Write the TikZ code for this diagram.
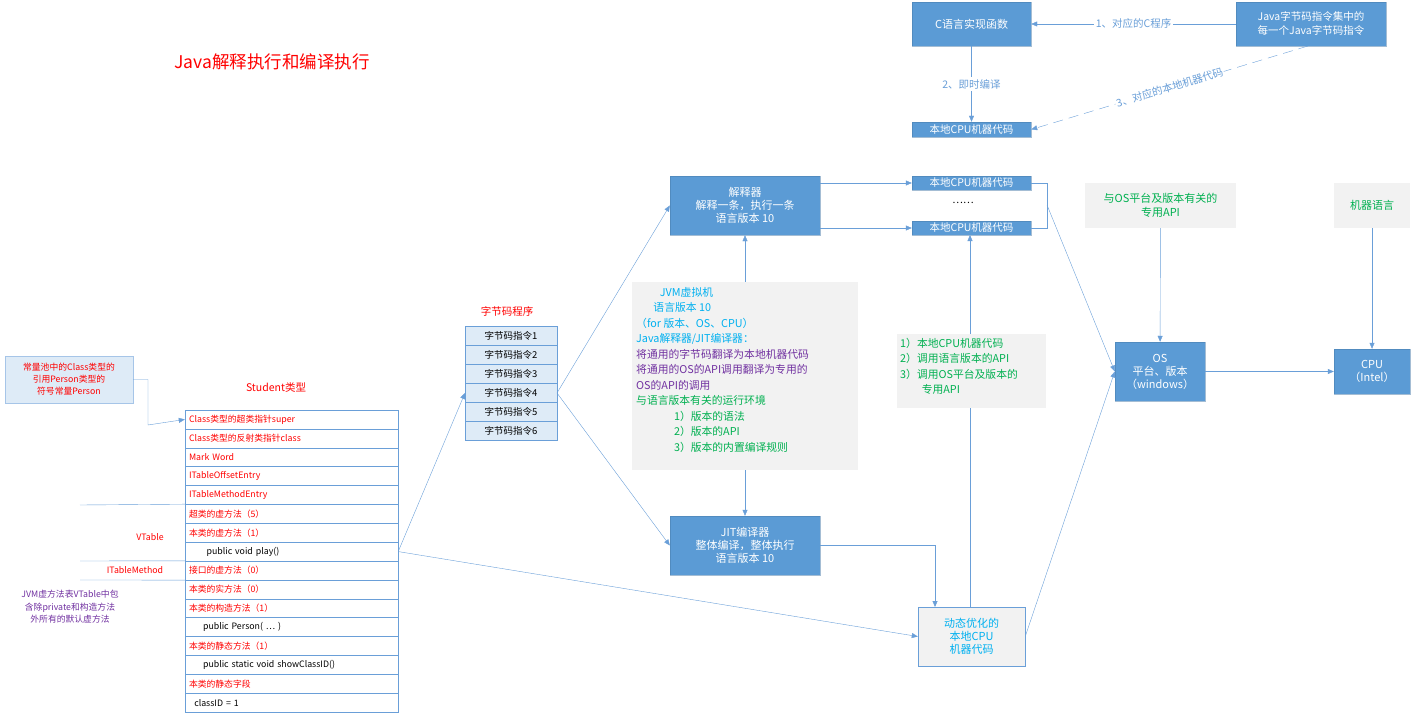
\documentclass[tikz,border=0pt]{standalone}
\usepackage{fontspec}
\setmainfont{Noto Sans CJK SC}
\usetikzlibrary{arrows.meta}
\definecolor{bl}{HTML}{5B9BD5}
\definecolor{ln}{HTML}{6A9FD8}
\definecolor{lb}{HTML}{DEEBF7}
\definecolor{gr}{HTML}{F2F2F2}
\definecolor{gt}{HTML}{00B050}
\definecolor{ct}{HTML}{00B0F0}
\definecolor{pu}{HTML}{7030A0}
\begin{document}
\begin{tikzpicture}[x=1pt,y=-1pt,
 every node/.style={inner sep=1pt,font=\fontsize{10}{12}\selectfont},
 bbox/.style={fill=bl,draw=bl!80!black,draw opacity=0.5,text=white,align=center},
 gbox/.style={fill=gr,align=center},
 row/.style={draw=ln,fill=white,minimum width=213pt,minimum height=18.875pt,text width=205pt,align=left,text=red,font=\fontsize{8.8}{10}\selectfont},
 brow/.style={row,text=black},
 bc/.style={draw=ln,fill=lb,minimum width=92pt,minimum height=19pt,font=\fontsize{9.5}{10}\selectfont},
 arr/.style={draw=ln,-{Triangle[length=6pt,width=5pt]}},
 ln/.style={draw=ln}]
\useasboundingbox (0,0) rectangle (1415,714);
\node[text=red,font=\fontsize{17.5}{20}\selectfont] (title) at (272,62) {Java解释执行和编译执行};
% top
\node[bbox,minimum width=119pt,minimum height=44pt,font=\fontsize{11}{13}\selectfont] (cf) at (971.5,24) {C语言实现函数};
\node[bbox,minimum width=150pt,minimum height=44pt,font=\fontsize{10.5}{14}\selectfont] (jb) at (1311,24) {Java字节码指令集中的\\每一个Java字节码指令};
\node[bbox,minimum width=119pt,minimum height=15pt,font=\fontsize{10.5}{12}\selectfont] (n0) at (971.5,129.5) {本地CPU机器代码};
\draw[arr] (jb) -- node[fill=white,text=ln,inner sep=2pt,font=\fontsize{10.5}{12}\selectfont]{1、对应的C程序} (cf);
\draw[arr] (cf) -- node[fill=white,text=ln,inner sep=2pt,font=\fontsize{10.5}{12}\selectfont]{2、即时编译} (n0);
\coordinate (jbl) at (1308,46);
\draw[arr,dashed,dash pattern=on 10pt off 6pt] (jbl) -- node[fill=white,text=ln,sloped,inner sep=1pt,font=\fontsize{10.5}{12}\itshape]{3、对应的本地机器代码} (n0.east);
% interpreter
\node[bbox,minimum width=150pt,minimum height=59pt,font=\fontsize{11}{13}\selectfont] (intp) at (745,205.5) {解释器\\解释一条，执行一条\\语言版本 10};
\node[bbox,minimum width=150pt,minimum height=59pt,font=\fontsize{11}{13}\selectfont] (jit) at (745,545.5) {JIT编译器\\整体编译，整体执行\\语言版本 10};
\node[bbox,minimum width=119pt,minimum height=14pt,font=\fontsize{10.5}{12}\selectfont] (n1) at (971.5,183) {本地CPU机器代码};
\node[bbox,minimum width=119pt,minimum height=14pt,font=\fontsize{10.5}{12}\selectfont] (n2) at (971.5,228) {本地CPU机器代码};
\node (dots) at (963,203) {……};
\node[gbox,minimum width=226pt,minimum height=188pt] (jvm) at (745,376) {};
\node[anchor=north west,align=left,inner sep=0pt,font=\fontsize{10.8}{15.5}\selectfont] (jvmt) at (636,287) {%
\textcolor{ct}{\hspace*{2.2em}JVM虚拟机}\\
\textcolor{ct}{\hspace*{1.6em}语言版本 10}\\
\textcolor{ct}{（for 版本、OS、CPU）}\\
\textcolor{ct}{Java解释器/JIT编译器：}\\
\textcolor{pu}{将通用的字节码翻译为本地机器代码}\\
\textcolor{pu}{将通用的OS的API调用翻译为专用的}\\
\textcolor{pu}{OS的API的调用}\\
\textcolor{gt}{与语言版本有关的运行环境}\\
\textcolor{gt}{\hspace*{3.5em}1）版本的语法}\\
\textcolor{gt}{\hspace*{3.5em}2）版本的API}\\
\textcolor{gt}{\hspace*{3.5em}3）版本的内置编译规则}};
\draw[arr] (jvm.north) -- (intp.south);
\draw[arr] (jvm.south) -- (jit.north);
% bytecode
\node[text=red,font=\fontsize{10.5}{12}\selectfont] (bct) at (507,311) {字节码程序};
\foreach \i in {1,...,6}{\node[bc] (b\i) at (511,{326+(\i-0.5)*19}) {字节码指令\i};}
\coordinate (bcr) at (557,393);
\coordinate (bcl) at (465,393);
\draw[arr] (bcr) -- (intp.west);
\draw[arr] (bcr) -- (jit.west);
\draw[arr] (intp.east |- n1) -- (n1);
\draw[arr] (intp.east |- n2) -- (n2);
% student table
\node[text=red,font=\fontsize{10.5}{12}\selectfont] (stt) at (276,388) {Student类型};
\def\rowy#1{410+(#1-0.5)*18.875}
\node[row] (r1) at (291.5,{\rowy{1}}) {Class类型的超类指针super};
\node[row] (r2) at (291.5,{\rowy{2}}) {Class类型的反射类指针class};
\node[row] (r3) at (291.5,{\rowy{3}}) {Mark Word};
\node[row] (r4) at (291.5,{\rowy{4}}) {ITableOffsetEntry};
\node[row] (r5) at (291.5,{\rowy{5}}) {ITableMethodEntry};
\node[row] (r6) at (291.5,{\rowy{6}}) {超类的虚方法（5）};
\node[row] (r7) at (291.5,{\rowy{7}}) {本类的虚方法（1）};
\node[brow] (r8) at (291.5,{\rowy{8}}) {\hspace*{2em}public void play()};
\node[row] (r9) at (291.5,{\rowy{9}}) {接口的虚方法（0）};
\node[row] (r10) at (291.5,{\rowy{10}}) {本类的实方法（0）};
\node[row] (r11) at (291.5,{\rowy{11}}) {本类的构造方法（1）};
\node[brow] (r12) at (291.5,{\rowy{12}}) {\hspace*{1.6em}public Person( … )};
\node[row] (r13) at (291.5,{\rowy{13}}) {本类的静态方法（1）};
\node[brow] (r14) at (291.5,{\rowy{14}}) {\hspace*{1.6em}public static void showClassID()};
\node[row] (r15) at (291.5,{\rowy{15}}) {本类的静态字段};
\node[brow] (r16) at (291.5,{\rowy{16}}) {\hspace*{0.6em}classID = 1};
\node[fill=lb,draw=ln!60,minimum width=128pt,minimum height=47pt,align=center,text=red,font=\fontsize{8.8}{12}\selectfont] (cp) at (69,379.5) {常量池中的Class类型的\\引用Person类型的\\符号常量Person};
\draw[arr] (cp.east) -| (148,425) -- (r1.west);
\coordinate (l1) at (80,505);
\coordinate (l2) at (80,561);
\coordinate (l3) at (80,580);
\draw[ln] (l1) -- (r6.north west);
\draw[ln] (l2) -- (r9.north west);
\draw[ln] (l3) -- (r9.south west);
\node[text=red,font=\fontsize{8.8}{10}\selectfont] (vt) at (150,537) {VTable};
\node[text=red,font=\fontsize{8.8}{10}\selectfont] (itm) at (135,570) {ITableMethod};
\node[text=pu,align=center,font=\fontsize{8.8}{12.5}\selectfont] (note) at (70,607) {JVM虚方法表VTable中包\\含除private和构造方法\\外所有的默认虚方法};
% dynamic
\node[gbox,draw=ln,minimum width=107pt,minimum height=59pt,text=ct,font=\fontsize{11}{13}\selectfont] (dyn) at (971.5,636.5) {动态优化的\\本地CPU\\机器代码};
\draw[arr] (r8.east) -- (bcl);
\draw[arr] (r8.east) -- (dyn.west);
\draw[arr] (jit.east) -| (935,607);
\draw[arr] (970,607) -- (970,235);
\node[gbox,minimum width=149pt,minimum height=74pt] (api) at (971.5,371) {};
\node[anchor=north west,align=left,text=gt,inner sep=0pt,font=\fontsize{10.8}{15.5}\selectfont] (apit) at (900,338) {1）本地CPU机器代码\\2）调用语言版本的API\\3）调用OS平台及版本的\\\hspace*{2em}专用API};
% OS
\node[bbox,minimum width=90pt,minimum height=59pt,font=\fontsize{11}{13}\selectfont] (os) at (1160,371.5) {OS\\平台、版本\\（windows）};
\node[bbox,minimum width=76pt,minimum height=45pt,font=\fontsize{11}{13}\selectfont] (cpu) at (1372,371.5) {CPU\\（Intel）};
\node[gbox,text=gt,minimum width=151pt,minimum height=45pt,font=\fontsize{11}{14}\selectfont] (osapi) at (1160.5,205.5) {与OS平台及版本有关的\\专用API};
\node[gbox,text=gt,minimum width=76pt,minimum height=45pt,font=\fontsize{11}{14}\selectfont] (ml) at (1372,205.5) {机器语言};
\draw[arr] (osapi) -- (os);
\draw[arr] (ml) -- (cpu);
\draw[arr] (os) -- (cpu);
\draw[ln] (n1.east) -- (1047,183) -- (1047,228) -- (n2.east);
\draw[arr] (1047,205) -- (os.west);
\draw[arr] (dyn.east) -- (os.west);
\end{tikzpicture}
\end{document}
